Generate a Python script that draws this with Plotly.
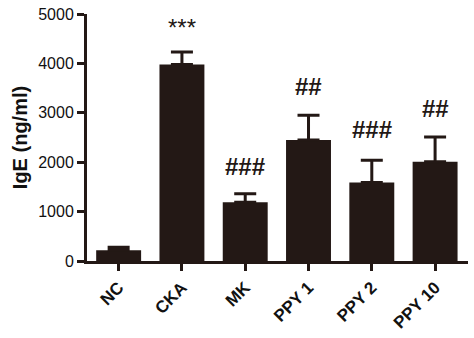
import plotly.graph_objects as go

categories = ["NC", "CKA", "MK", "PPY 1", "PPY 2", "PPY 10"]
means = [220, 3980, 1190, 2450, 1590, 2010]
errors = [60, 250, 170, 500, 450, 500]
sig_labels = ["", "***", "###", "##", "###", "##"]
sig_y = [0, 4720, 1920, 3540, 2660, 3080]

BAR = "#231815"
FONT = "Liberation Sans, Arial, sans-serif"

fig = go.Figure()
fig.add_trace(go.Bar(
    x=categories, y=means, width=0.71,
    marker=dict(color=BAR, line=dict(width=0)),
    error_y=dict(type="data", array=errors, arrayminus=[0]*len(errors),
                 symmetric=False, color=BAR, thickness=3, width=11),
))

for c, lab, yy in zip(categories, sig_labels, sig_y):
    if lab:
        fig.add_annotation(x=c, y=yy, text=lab, showarrow=False,
                           font=dict(family=FONT, size=24, color=BAR,
                                     weight="bold" if lab.startswith("#") else "normal"),
                           yanchor="middle")

fig.update_layout(
    width=474, height=338,
    margin=dict(l=87, r=6, t=12, b=76),
    paper_bgcolor="white", plot_bgcolor="white",
    showlegend=False,
    font=dict(family=FONT, color="black"),
)
fig.update_xaxes(
    range=[-0.5, 5.52], showgrid=False, showline=True, linecolor=BAR, linewidth=3,
    ticks="outside", ticklen=7, tickwidth=3, tickcolor=BAR,
    tickangle=-45, tickfont=dict(family=FONT, size=17, color="#111"),
    zeroline=False,
)
fig.update_yaxes(
    range=[0, 5000], tickvals=[0, 1000, 2000, 3000, 4000, 5000],
    showgrid=False, showline=True, linecolor=BAR, linewidth=3,
    ticks="outside", ticklen=7, tickwidth=3, tickcolor=BAR,
    tickfont=dict(family=FONT, size=16, color="#111"),
    title=dict(text="<b>IgE (ng/ml)</b>", font=dict(family=FONT, size=20, color="#111"), standoff=6),
    zeroline=False,
)
fig.update_xaxes(tickprefix="<b>", ticksuffix="</b>")
fig.update_yaxes(tickprefix="<b>", ticksuffix="</b>")

fig.write_html("out.html")
